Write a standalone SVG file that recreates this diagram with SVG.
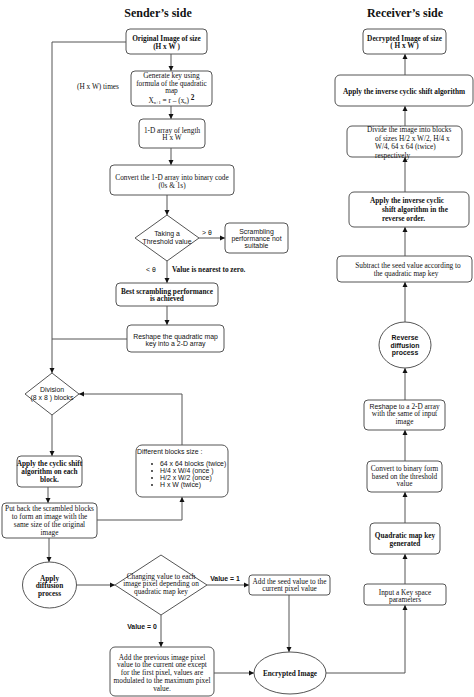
<svg xmlns="http://www.w3.org/2000/svg" width="474" height="697" viewBox="0 0 474 697">
<defs>
<marker id="arr" markerWidth="6" markerHeight="6" refX="5" refY="3" orient="auto" markerUnits="userSpaceOnUse">
<path d="M0,0.5 L5,3 L0,5.5 Z" fill="#111"/>
</marker>
<style>
.box{fill:#fff;stroke:#555;stroke-width:1}
.ln{fill:none;stroke:#555;stroke-width:1}
.ar{fill:none;stroke:#555;stroke-width:1;marker-end:url(#arr)}
text{font-family:"Liberation Serif","Times New Roman",serif;font-size:7.3px;fill:#111;text-anchor:middle}
.b{font-weight:bold}
.s{font-family:"Liberation Sans",Arial,sans-serif;font-size:6.9px}
.l{text-anchor:start}
.t{font-size:12px;font-weight:bold}
</style>
</defs>
<rect width="474" height="697" fill="#fff"/>
<text class="t" x="158" y="17">Sender’s side</text>
<text class="t" x="405" y="17">Receiver’s side</text>

<g id="connectors">
<polyline class="ar" points="126,42 52,42 52,373"/>
<line class="ln" x1="127" y1="339" x2="52" y2="339"/>
<line class="ar" x1="171" y1="54" x2="171" y2="71"/>
<line class="ar" x1="171" y1="106" x2="171" y2="119"/>
<line class="ar" x1="171" y1="148" x2="171" y2="165"/>
<line class="ar" x1="167" y1="195" x2="167" y2="215"/>
<line class="ar" x1="199" y1="238" x2="225" y2="238"/>
<line class="ar" x1="167" y1="261" x2="167" y2="283"/>
<line class="ar" x1="167" y1="306" x2="167" y2="325"/>
<line class="ar" x1="52" y1="415" x2="52" y2="456"/>
<polyline class="ar" points="182,445 182,394 79,394"/>
<line class="ar" x1="48" y1="487" x2="48" y2="503"/>
<polyline class="ar" points="97,520 182,520 182,497"/>
<line class="ar" x1="49" y1="538" x2="49" y2="562"/>
<line class="ar" x1="76" y1="585" x2="115" y2="585"/>
<line class="ar" x1="207" y1="585" x2="249" y2="585"/>
<line class="ar" x1="161" y1="615" x2="161" y2="647"/>
<line class="ar" x1="289" y1="595" x2="289" y2="652"/>
<line class="ar" x1="214" y1="673" x2="254" y2="673"/>
<polyline class="ar" points="326,673 405,673 405,605"/>
<line class="ar" x1="405" y1="584" x2="405" y2="554"/>
<line class="ar" x1="405" y1="523" x2="405" y2="492"/>
<line class="ar" x1="405" y1="461" x2="405" y2="430"/>
<line class="ar" x1="405" y1="400" x2="405" y2="368"/>
<line class="ar" x1="405" y1="322" x2="405" y2="282"/>
<line class="ar" x1="405" y1="256" x2="405" y2="227"/>
<line class="ar" x1="405" y1="192" x2="405" y2="157"/>
<line class="ar" x1="405" y1="126" x2="405" y2="106"/>
<line class="ar" x1="405" y1="75" x2="405" y2="54"/>
<text x="98" y="88.5">(H x W) times</text>
<text class="s" x="207" y="234.5">&gt; θ</text>
<text class="s" x="151" y="271.5">&lt; θ</text>
<text class="b l" x="172" y="271.5">Value is nearest to zero.</text>
<text class="s b" x="225" y="581">Value = 1</text>
<text class="s b" x="142" y="629">Value = 0</text>
</g>

<g id="original">
<rect class="box" x="126" y="29" width="81" height="25" rx="4"/>
<text class="b" x="166.5" y="40.5">Original Image of size</text>
<text class="b" x="166.5" y="49">(H x W )</text>
</g>
<g id="genkey">
<rect class="box" x="131" y="71" width="81" height="35" rx="4"/>
<text x="171.5" y="78">Generate key using</text>
<text x="171.5" y="85.6">formula of the quadratic</text>
<text x="171.5" y="93.2">map</text>
<text x="171.5" y="102.5">X<tspan font-size="4.5" dy="1.5">n+1</tspan><tspan dy="-1.5"> = r – (x</tspan><tspan font-size="4.5" dy="1.5">n</tspan><tspan dy="-1.5">)</tspan><tspan class="b" dy="-2.5"> 2</tspan></text>
</g>
<g id="array1d">
<rect class="box" x="139" y="119" width="66" height="29" rx="4"/>
<text x="172" y="132.5">1-D array of length</text>
<text x="172" y="140">H x W</text>
</g>
<g id="convert">
<rect class="box" x="110" y="165" width="124" height="30" rx="4"/>
<text x="172" y="179.5">Convert the 1-D array into binary code</text>
<text x="172" y="187.5">(0s &amp; 1s)</text>
</g>
<g id="threshold">
<polygon class="box" points="167,215 199,238 167,261 135,238"/>
<text class="s" x="167" y="235.5">Taking a</text>
<text class="s" x="167" y="243.5">Threshold value</text>
</g>
<g id="notsuitable">
<rect class="box" x="225" y="223" width="63" height="30" rx="4"/>
<text class="s" x="256.5" y="234">Scrambling</text>
<text class="s" x="256.5" y="241">performance not</text>
<text class="s" x="256.5" y="248">suitable</text>
</g>
<g id="best">
<rect class="box" x="116" y="283" width="102" height="23" rx="4"/>
<text class="b" x="167" y="293.5">Best scrambling performance</text>
<text class="b" x="167" y="301">is achieved</text>
</g>
<g id="reshape1">
<rect class="box" x="127" y="325" width="97" height="27" rx="4"/>
<text class="s" x="175.5" y="338.5">Reshape the quadratic map</text>
<text class="s" x="175.5" y="346">key into a 2-D array</text>
</g>
<g id="division">
<polygon class="box" points="52,373 79,394 52,415 25,394"/>
<text class="s" x="52" y="391.5">Division</text>
<text class="s" x="52" y="399.5">(8 x 8 ) blocks</text>
</g>
<g id="cyclic">
<rect class="box" x="17" y="456" width="65" height="31" rx="4"/>
<text class="b" x="49.5" y="465.5">Apply the cyclic shift</text>
<text class="b" x="49.5" y="473.5">algorithm on each</text>
<text class="b" x="49.5" y="481.5">block.</text>
</g>
<g id="blocksizes">
<rect class="box" x="136" y="445" width="92" height="52" rx="6"/>
<text class="s l" x="137" y="453.5">Different blocks size :</text>
<circle cx="152" cy="464" r="0.9" fill="#111"/>
<circle cx="152" cy="471" r="0.9" fill="#111"/>
<circle cx="152" cy="478" r="0.9" fill="#111"/>
<circle cx="152" cy="485" r="0.9" fill="#111"/>
<text class="s l" x="160" y="466">64 x 64 blocks (twice)</text>
<text class="s l" x="160" y="473">H/4 x W/4 (once )</text>
<text class="s l" x="160" y="480">H/2 x W/2 (once)</text>
<text class="s l" x="160" y="487">H x W (twice)</text>
</g>
<g id="putback">
<rect class="box" x="2" y="503" width="95" height="35" rx="4"/>
<text x="49.5" y="510.5">Put back the scrambled blocks</text>
<text x="49.5" y="518.5">to form an image  with the</text>
<text x="49.5" y="526.5">same size of the original</text>
<text x="49.5" y="535">image</text>
</g>
<g id="diffusion">
<ellipse class="box" cx="49.5" cy="585" rx="27" ry="23"/>
<text class="b" x="49.5" y="580.5">Apply</text>
<text class="b" x="49.5" y="588">diffusion</text>
<text class="b" x="49.5" y="595.5">process</text>
</g>
<g id="changing">
<polygon class="box" points="161,555 207,585 161,615 115,585"/>
<text x="161" y="578.5">Changing value to each</text>
<text x="161" y="586">image pixel depending on</text>
<text x="161" y="593.5">quadratic map key</text>
</g>
<g id="addseed">
<rect class="box" x="249" y="575" width="81" height="20" rx="3"/>
<text x="289.5" y="583.5">Add the seed value to the</text>
<text x="289.5" y="591">current pixel value</text>
</g>
<g id="addprev">
<rect class="box" x="110" y="647" width="104" height="49" rx="5"/>
<text x="162" y="659.5">Add the previous image pixel</text>
<text x="162" y="667">value to the current one except</text>
<text x="162" y="675">for the first pixel, values are</text>
<text x="162" y="682.5">modulated to the maximum pixel</text>
<text x="162" y="690.5">value.</text>
</g>
<g id="encrypted">
<ellipse class="box" cx="290" cy="673" rx="36" ry="21"/>
<text class="b" x="290" y="675.5">Encrypted Image</text>
</g>

<g id="decrypted">
<rect class="box" x="363" y="29" width="83" height="25" rx="4"/>
<text class="b" x="404.5" y="40.5">Decrypted Image of size</text>
<text class="b" x="404.5" y="48">( H x W )</text>
</g>
<g id="invcyclic">
<rect class="box" x="335" y="75" width="138" height="31" rx="5"/>
<text class="b" x="404" y="94">Apply the inverse cyclic shift algorithm</text>
</g>
<g id="divide">
<rect class="box" x="347" y="126" width="115" height="31" rx="5"/>
<text class="l" x="367" y="132">Divide the image into blocks</text>
<text class="l" x="375" y="140.5">of sizes H/2 x W/2, H/4 x</text>
<text class="l" x="375" y="149">W/4, 64 x 64 (twice)</text>
<text class="l" x="375" y="157.5">respectively</text>
</g>
<g id="invreverse">
<rect class="box" x="349" y="192" width="120" height="35" rx="5"/>
<text class="b l" x="370" y="203">Apply the inverse cyclic</text>
<text class="b l" x="382" y="212">shift algorithm in the</text>
<text class="b l" x="382" y="221">reverse order.</text>
</g>
<g id="subtract">
<rect class="box" x="337" y="256" width="135" height="26" rx="4"/>
<text x="408" y="267.5">Subtract the seed value according to</text>
<text x="406" y="276">the quadratic map key</text>
</g>
<g id="revdiff">
<ellipse class="box" cx="405" cy="345" rx="26" ry="23"/>
<text class="s b" x="405" y="339.5">Reverse</text>
<text class="s b" x="405" y="347.5">diffusion</text>
<text class="s b" x="405" y="355">process</text>
</g>
<g id="reshape2">
<rect class="box" x="364" y="400" width="81" height="30" rx="4"/>
<text x="404.5" y="408.5"><tspan class="s">Reshape</tspan> to a 2-D array</text>
<text x="404.5" y="416">with the same of input</text>
<text x="404.5" y="424">image</text>
</g>
<g id="tobinary">
<rect class="box" x="367" y="461" width="75" height="31" rx="4"/>
<text x="404.5" y="470.5">Convert to binary form</text>
<text x="404.5" y="478.5">based on the threshold</text>
<text x="404.5" y="486">value</text>
</g>
<g id="qkey">
<rect class="box" x="370" y="523" width="70" height="31" rx="4"/>
<text class="b" x="405" y="537.5">Quadratic map key</text>
<text class="b" x="405" y="545.5">generated</text>
</g>
<g id="input">
<rect class="box" x="364" y="584" width="82" height="21" rx="3"/>
<text x="405" y="594.5">Input a Key space</text>
<text x="405" y="602">parameters</text>
</g>
</svg>
